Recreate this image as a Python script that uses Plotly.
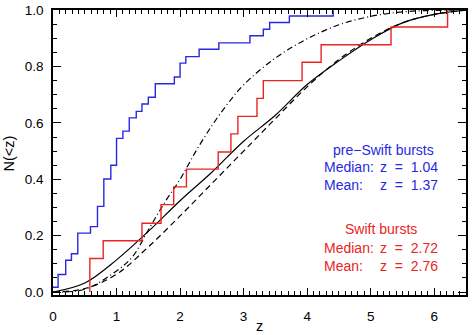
import plotly.graph_objects as go

# pre-Swift bursts cumulative distribution (step positions and levels)
pre_z = [0, 0.08, 0.20, 0.29, 0.39, 0.59, 0.70, 0.80, 0.91, 1.00, 1.10, 1.20, 1.31, 1.40,
         1.50, 1.61, 1.91, 2.00, 2.09, 2.30, 2.61, 3.10, 3.31, 3.41, 3.72, 4.41]
pre_n = [0.017, 0.062, 0.113, 0.136, 0.209, 0.232, 0.304, 0.401, 0.45, 0.545, 0.571, 0.618,
         0.641, 0.667, 0.691, 0.739, 0.763, 0.812, 0.835, 0.861, 0.884, 0.909, 0.932, 0.956,
         0.979, 1.0]

# Swift bursts cumulative distribution
swift_z = [0.58, 0.58, 0.79, 1.40, 1.70, 1.90, 2.10, 2.60, 2.80, 2.91, 3.21, 3.31, 3.92,
           4.22, 5.32, 6.21]
swift_n = [0.0, 0.119, 0.182, 0.244, 0.31, 0.373, 0.436, 0.497, 0.561, 0.623, 0.687, 0.75,
           0.815, 0.877, 0.94, 1.0]

# model curves
solid_z = [0, 0.5, 1.0, 1.5, 2.0, 2.5, 3.0, 3.5, 4.0, 4.5, 5.0, 5.5, 6.0, 6.5]
solid_n = [0, 0.032, 0.114, 0.215, 0.324, 0.425, 0.535, 0.627, 0.736, 0.82, 0.895, 0.955,
           0.985, 1.0]

dash_z = [0, 0.5, 1.0, 1.5, 2.0, 2.5, 3.0, 3.5, 4.0, 4.5, 5.0, 5.5, 6.0, 6.5]
dash_n = [0, 0.012, 0.063, 0.16, 0.27, 0.385, 0.50, 0.615, 0.728, 0.825, 0.9, 0.955, 0.985, 1.0]

dd_z = [0, 0.5, 1.0, 1.25, 1.5, 1.75, 2.0, 2.25, 2.5, 2.75, 3.0, 3.5, 4.0, 4.5, 5.0, 5.5,
        6.0, 6.5]
dd_n = [0, 0.01, 0.075, 0.125, 0.22, 0.315, 0.40, 0.50, 0.59, 0.668, 0.735, 0.83, 0.898,
        0.948, 0.978, 0.994, 0.999, 1.0]

x_ticks = [0, 1, 2, 3, 4, 5, 6]
y_ticks = [0.0, 0.2, 0.4, 0.6, 0.8, 1.0]

BLUE = "rgb(40,40,225)"
RED = "rgb(235,35,35)"
FONT = "Liberation Sans, Arial, Helvetica, sans-serif"

fig = go.Figure()
fig.add_trace(go.Scatter(x=solid_z, y=solid_n, mode="lines",
                         line=dict(color="black", width=1.2), line_shape="spline"))
fig.add_trace(go.Scatter(x=dash_z, y=dash_n, mode="lines",
                         line=dict(color="black", width=1.2, dash="6px,4px"), line_shape="spline"))
fig.add_trace(go.Scatter(x=dd_z, y=dd_n, mode="lines",
                         line=dict(color="black", width=1.2, dash="6px,3px,1px,3px"),
                         line_shape="spline"))
fig.add_trace(go.Scatter(x=pre_z, y=pre_n, mode="lines", line_shape="hv",
                         line=dict(color=BLUE, width=1.4)))
fig.add_trace(go.Scatter(x=swift_z, y=swift_n, mode="lines", line_shape="hv",
                         line=dict(color=RED, width=1.4)))

axis_common = dict(showgrid=False, zeroline=False, showline=True, linecolor="black",
                   linewidth=1.5, mirror="allticks", ticks="inside", tickcolor="black",
                   tickfont=dict(family=FONT, size=13.5, color="black"))

fig.update_xaxes(range=[0, 6.5], tickvals=x_ticks, ticklen=7, tickwidth=1,
                 ticklabelstandoff=8,
                 minor=dict(ticks="inside", dtick=0.1, ticklen=4, tickcolor="black", tickwidth=1),
                 **axis_common)
fig.update_yaxes(range=[-0.0105, 1.0005], tickvals=y_ticks, tickformat=".1f", ticklen=8,
                 tickwidth=1, ticklabelstandoff=5, ticklabeloverflow="allow",
                 minor=dict(ticks="inside", dtick=0.05, ticklen=4, tickcolor="black", tickwidth=1),
                 **axis_common)

def px(xp):
    return (xp - 53) / 413.0

def py(yp):
    return (295 - yp) / 292.0

ann = []
def add(text, x, y, color, xanchor="left", angle=0, size=14):
    ann.append(dict(text=text, x=x, y=y, xref="paper", yref="paper", showarrow=False,
                    xanchor=xanchor, yanchor="middle", textangle=angle,
                    font=dict(family=FONT, size=size, color=color)))

add("pre\u2212Swift bursts", px(383), py(146), BLUE, "center")
add("Median:", px(322), py(164), BLUE)
add("z\u00a0\u00a0=\u00a0\u00a01.04", px(378), py(164), BLUE)
add("Mean:", px(322), py(182), BLUE)
add("z\u00a0\u00a0=\u00a0\u00a01.37", px(378), py(182), BLUE)
add("Swift bursts", px(381), py(227), RED, "center")
add("Median:", px(322), py(247), RED)
add("z\u00a0\u00a0=\u00a0\u00a02.72", px(378), py(247), RED)
add("Mean:", px(322), py(265), RED)
add("z\u00a0\u00a0=\u00a0\u00a02.76", px(378), py(265), RED)
add("z", px(259), py(327), "black", "center", size=14.5)
add("N(<z)", px(9), py(150), "black", "center", -90, size=14.5)

fig.update_layout(width=474, height=335, margin=dict(l=53, r=8, t=3, b=40),
                  paper_bgcolor="white", plot_bgcolor="white", showlegend=False,
                  annotations=ann)

fig.write_html("out.html")
